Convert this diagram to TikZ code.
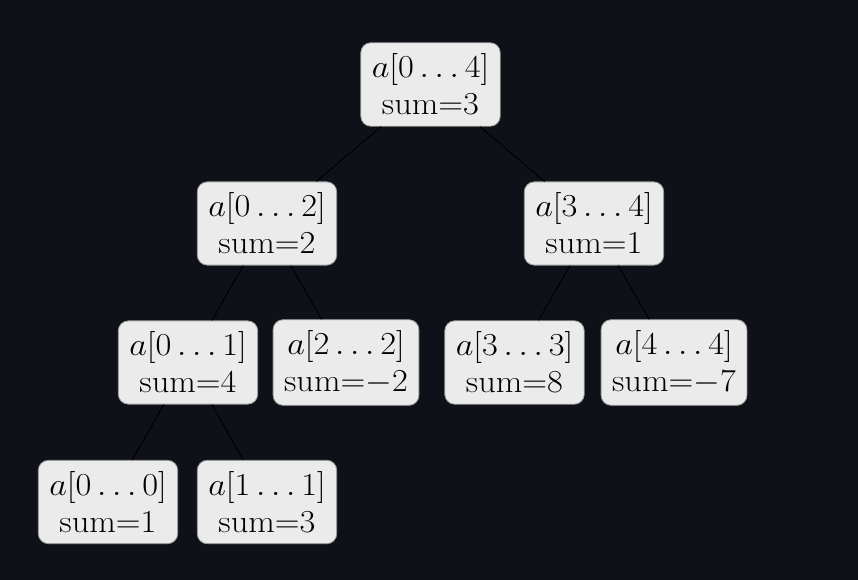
\RequirePackage{fix-cm}
\documentclass[tikz,border=0pt]{standalone}
\usepackage{amsmath}
\usepackage{graphicx}
\definecolor{bgc}{HTML}{0E1117}
\definecolor{boxc}{HTML}{EBEBEB}
\definecolor{boxd}{HTML}{9A9A9A}
\newcommand\hsc[1]{\scalebox{1.075}[1]{#1}}
\begin{document}
\begin{tikzpicture}[x=1pt,y=-1pt,
  seg/.style={draw=boxd,fill=boxc,rounded corners=10pt,align=center,
    inner xsep=11pt,inner ysep=11pt,line width=0.8pt,
    font=\fontsize{32}{37}\selectfont},
  edge/.style={draw=black,line width=1pt}]
\fill[bgc] (0,0) rectangle (858,580);
\useasboundingbox (0,0) rectangle (858,580);
\node[seg] (r)   at (430.5,84.5)  {\hsc{$a[0\ldots4]$}\\\hsc{sum=3}};
\node[seg] (l)   at (267,223.5) {\hsc{$a[0\ldots2]$}\\\hsc{sum=2}};
\node[seg] (rr)  at (594,223.5) {\hsc{$a[3\ldots4]$}\\\hsc{sum=1}};
\node[seg] (ll)  at (188,362.5) {\hsc{$a[0\ldots1]$}\\\hsc{sum=4}};
\node[seg] (lr)  at (346,362.5) {\hsc{$a[2\ldots2]$}\\\hsc{sum=$-2$}};
\node[seg] (rl)  at (514.5,362.5) {\hsc{$a[3\ldots3]$}\\\hsc{sum=8}};
\node[seg] (rrr) at (674,362.5) {\hsc{$a[4\ldots4]$}\\\hsc{sum=$-7$}};
\node[seg] (lll) at (108,502) {\hsc{$a[0\ldots0]$}\\\hsc{sum=1}};
\node[seg] (llr) at (267,502) {\hsc{$a[1\ldots1]$}\\\hsc{sum=3}};
\draw[edge] (r) -- (l);
\draw[edge] (r) -- (rr);
\draw[edge] (l) -- (ll);
\draw[edge] (l) -- (lr);
\draw[edge] (rr) -- (rl);
\draw[edge] (rr) -- (rrr);
\draw[edge] (ll) -- (lll);
\draw[edge] (ll) -- (llr);
\end{tikzpicture}
\end{document}
